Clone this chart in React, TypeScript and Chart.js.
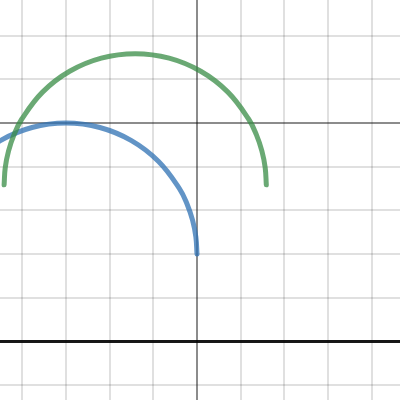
import React, { useEffect, useRef } from "react";
import { Chart, registerables } from "chart.js";

Chart.register(...registerables);

// Blue arc (upper half of circle, centre (-3,-3), r=3)
const blueX = [-6, -5.974, -5.898, -5.772, -5.598, -5.121, -4.5, -3.776, -3, -2.224, -1.5, -0.879, -0.402, -0.228, -0.102, -0.026, 0];
const blueY = [-3, -2.608, -2.224, -1.852, -1.5, -0.879, -0.402, -0.102, 0, -0.102, -0.402, -0.879, -1.5, -1.852, -2.224, -2.608, -3];

// Green arc (upper half of circle, centre (-1.414,-1.414), r=3)
const greenX = [-4.414, -4.388, -4.312, -4.186, -4.012, -3.535, -2.914, -2.19, -1.414, -0.638, 0.086, 0.707, 1.184, 1.358, 1.484, 1.56, 1.586];
const greenY = [-1.414, -1.022, -0.638, -0.266, 0.086, 0.707, 1.184, 1.484, 1.586, 1.484, 1.184, 0.707, 0.086, -0.266, -0.638, -1.022, -1.414];

// Horizontal black line y = -5
const blackX = [-10, 10];
const blackY = [-5, -5];

const xRange = [-4.508, 4.645];
const yRange = [-6.339, 2.815];

const pts = (xs: number[], ys: number[]) => xs.map((x, i) => ({ x, y: ys[i] }));

export default function App() {
  const ref = useRef<HTMLCanvasElement>(null);
  useEffect(() => {
    if (!ref.current) return;
    const gridColor = (ctx: any) =>
      ctx.tick && ctx.tick.value === 0 ? "rgba(0,0,0,0.45)" : "rgba(0,0,0,0.12)";
    const chart = new Chart(ref.current, {
      type: "scatter",
      data: {
        datasets: [
          {
            data: pts(greenX, greenY),
            showLine: true,
            borderColor: "rgba(56,140,70,0.75)",
            borderWidth: 5,
            borderCapStyle: "round",
            tension: 0.4,
            pointRadius: 0,
            order: 1,
          },
          {
            data: pts(blueX, blueY),
            showLine: true,
            borderColor: "rgba(45,112,179,0.75)",
            borderWidth: 5,
            borderCapStyle: "round",
            tension: 0.4,
            pointRadius: 0,
            order: 2,
          },
          {
            data: pts(blackX, blackY),
            showLine: true,
            borderColor: "rgba(0,0,0,0.9)",
            borderWidth: 3,
            pointRadius: 0,
            order: 0,
          },
        ],
      },
      options: {
        animation: false,
        responsive: false,
        layout: { padding: 0 },
        plugins: { legend: { display: false }, tooltip: { enabled: false } },
        scales: {
          x: {
            type: "linear",
            min: xRange[0],
            max: xRange[1],
            ticks: { display: false, stepSize: 1, includeBounds: false },
            grid: { color: gridColor, lineWidth: 2, drawTicks: false },
            border: { display: false },
          },
          y: {
            type: "linear",
            min: yRange[0],
            max: yRange[1],
            ticks: { display: false, stepSize: 1, includeBounds: false },
            grid: { color: gridColor, lineWidth: 2, drawTicks: false },
            border: { display: false },
          },
        },
      },
    });
    return () => chart.destroy();
  }, []);
  return (
    <div style={{ position: "absolute", left: 0, top: 0, width: 400, height: 400, background: "#fff" }}>
      <canvas ref={ref} width={400} height={400} />
    </div>
  );
}
